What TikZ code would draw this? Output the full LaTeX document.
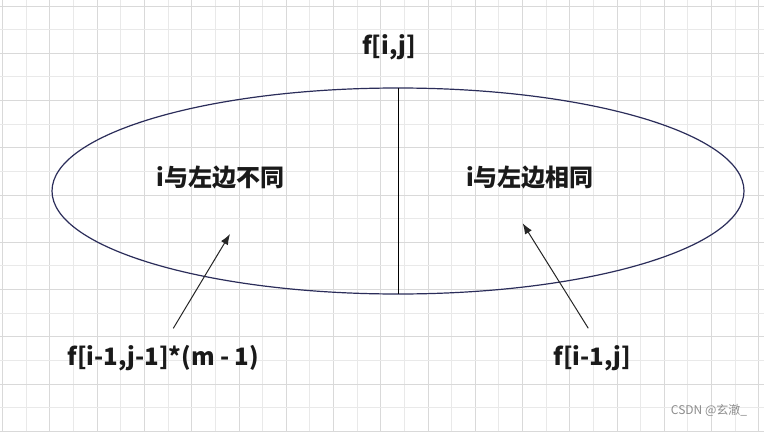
\documentclass[tikz,border=0pt]{standalone}
\usepackage{fontspec}
\setmainfont{Noto Sans CJK SC}
\usetikzlibrary{arrows.meta}
\definecolor{gridmajor}{HTML}{D9D9D9}
\definecolor{gridminor}{HTML}{E9E9E9}
\definecolor{ellcol}{HTML}{2B2D5A}
\definecolor{txtcol}{HTML}{1A1A1A}
\tikzset{
  lbl/.style={font=\fontsize{18pt}{20pt}\selectfont\bfseries, text=txtcol, inner sep=0pt},
  arr/.style={draw=black!85, line width=0.75pt, -{Latex[length=8pt,width=6pt]}},
  wm/.style={font=\fontsize{9pt}{10pt}\selectfont, text=black!45, inner sep=0pt}
}
\begin{document}
\begin{tikzpicture}[x=0.75pt,y=-0.75pt]
\useasboundingbox (0,0) rectangle (764,432);
\fill[white] (0,0) rectangle (764,432);
\foreach \k in {0,...,32}{
  \pgfmathsetmacro{\xx}{2.7+23.63*\k}
  \pgfmathtruncatemacro{\pty}{mod(\k,2)}
  \ifnum\pty=0 \draw[gridmajor,line width=0.75pt] (\xx,0) -- (\xx,432);
  \else \draw[gridminor,line width=0.75pt] (\xx,0) -- (\xx,432); \fi
}
\foreach \k in {0,...,18}{
  \pgfmathsetmacro{\yy}{6+23.63*\k}
  \pgfmathtruncatemacro{\pty}{mod(\k,2)}
  \ifnum\pty=0 \draw[gridmajor,line width=0.75pt] (0,\yy) -- (764,\yy);
  \else \draw[gridminor,line width=0.75pt] (0,\yy) -- (764,\yy); \fi
}
\draw[ellcol,line width=0.9pt] (398,191) ellipse [x radius=346, y radius=103];
\coordinate (top) at (398,88);
\coordinate (bot) at (398,294);
\draw[black,line width=0.75pt] (top) -- (bot);
\node[lbl] (fij) at (389,47) {f[i,j]};
\node[lbl] (left) at (220.5,177) {i与左边不同};
\node[lbl] (right) at (530,177) {i与左边相同};
\node[lbl] (fl) at (163.3,358) {f[i-1,j-1]*(m - 1)};
\node[lbl] (fr) at (592.5,358) {f[i-1,j]};
\coordinate (la) at (173.3,328.3);
\coordinate (lt) at (230,234);
\coordinate (ra) at (588.3,328.3);
\coordinate (rt) at (522.7,223.3);
\draw[arr] (la) -- (lt);
\draw[arr] (ra) -- (rt);
\node[wm] (wmk) at (709,410) {CSDN @玄澈\_};
\end{tikzpicture}
\end{document}
